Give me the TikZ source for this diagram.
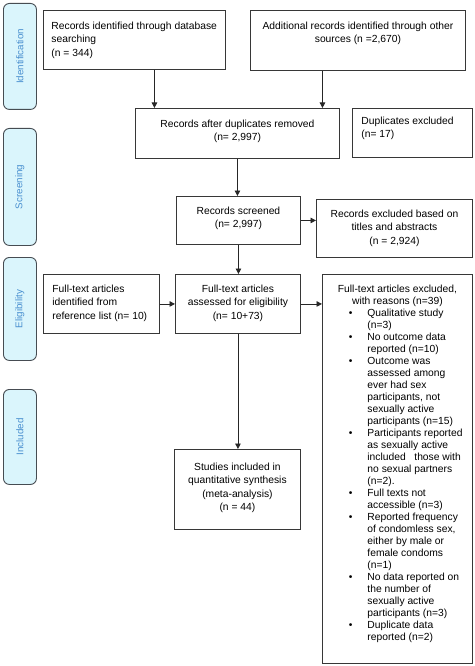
\documentclass[tikz,border=0pt]{standalone}
\usepackage{fontspec}
\setmainfont{Liberation Sans}
\usepackage{graphicx}
\usetikzlibrary{arrows.meta}
\definecolor{sidefill}{RGB}{218,245,252}
\definecolor{sidetext}{RGB}{74,144,208}
\definecolor{sideedge}{RGB}{70,76,82}
\definecolor{edge}{RGB}{55,55,55}
% #1 width, #2 height, #3 alignment, #4 first-line strut, #5 text
\newcommand\tb[5]{\parbox[c][#2pt][t]{#1pt}{\fontsize{10.3}{13.5}\selectfont#3\rule{0pt}{#4pt}#5}}
\newcommand\bul{\leavevmode\llap{\textbullet\hspace{15pt}}}
\tikzset{
  bx/.style={draw=edge, line width=0.9pt, inner sep=0pt, anchor=north west},
  side/.style={draw=sideedge, fill=sidefill, line width=0.9pt, rounded corners=6pt,
    inner sep=0pt, anchor=north west, minimum width=33pt, text=sidetext,
    font=\fontsize{9.8}{11}\selectfont},
  arr/.style={draw=black!85, line width=0.9pt, -{Triangle[length=5.5pt,width=5.5pt]}}
}
\begin{document}
\begin{tikzpicture}[x=1pt,y=-1pt]
\useasboundingbox (0,0) rectangle (474,666);

% side labels
\node[side, minimum height=106pt] (sid) at (3,3) {\rotatebox{90}{Identification}};
\node[side, minimum height=117pt] (ssc) at (3,128) {\rotatebox{90}{Screening}};
\node[side, minimum height=103pt] (sel) at (3,257) {\rotatebox{90}{Eligibility}};
\node[side, minimum height=95pt] (sin) at (3,389) {\rotatebox{90}{Included}};

% boxes
\node[bx] (db) at (43,10) {\tb{182}{59}{\raggedright\leftskip=8pt}{19}{Records identified through database\\searching\\(n = 344)}};
\node[bx] (oth) at (250,10) {\tb{215}{60}{\centering}{19}{Additional records identified through other\\sources (n =2,670)}};
\node[bx] (dup) at (135,108) {\tb{204}{50}{\centering}{19}{Records after duplicates removed\\(n= 2,997)}};
\node[bx] (dex) at (352,108) {\tb{120}{49}{\raggedright\leftskip=9pt}{16}{Duplicates excluded\\(n= 17)}};
\node[bx] (scr) at (176,196) {\tb{124}{48}{\centering}{18}{Records screened\\(n= 2,997)}};
\node[bx] (tex) at (316,199) {\tb{156}{58}{\centering}{18}{Records excluded based on\\titles and abstracts\\(n = 2,924)}};
\node[bx] (ref) at (43,274) {\tb{116}{59}{\raggedright\leftskip=9pt}{18}{Full-text articles\\identified from\\reference list (n= 10)}};
\node[bx] (ass) at (175,274) {\tb{125}{59}{\centering}{18}{Full-text articles\\assessed for eligibility\\(n= 10+73)}};
\node[bx] (stu) at (174,449) {\tb{126}{80}{\centering}{21}{Studies included in\\quantitative synthesis\\(meta-analysis)\\(n = 44)}};
\node[bx] (fex) at (322,274) {\parbox[c][389pt][t]{150pt}{\fontsize{10.3}{12}\selectfont
  {\centering\rule{0pt}{18pt}Full-text articles excluded,\\with reasons (n=39)\par}
  \raggedright\leftskip=45pt
  \bul Qualitative study\\(n=3)\par
  \bul No outcome data\\reported (n=10)\par
  \bul Outcome was\\assessed among\\ever had sex\\participants, not\\sexually active\\participants (n=15)\par
  \bul Participants reported\\as sexually active\\included\ \ \ those with\\no sexual partners\\(n=2).\par
  \bul Full texts not\\accessible (n=3)\par
  \bul Reported frequency\\of condomless sex,\\either by male or\\female condoms\\(n=1)\par
  \bul No data reported on\\the number of\\sexually active\\participants (n=3)\par
  \bul Duplicate data\\reported (n=2)\par}};

% connectors
\draw[arr] ([xshift=20pt]db.south) -- ([xshift=20pt]db.south |- dup.north);
\draw[arr] ([xshift=-35.5pt]oth.south) -- ([xshift=-35.5pt]oth.south |- dup.north);
\draw[arr] (dup.south) -- (dup.south |- scr.north);
\draw[arr] (scr.east) -- (scr.east -| tex.west);
\draw[arr] (scr.south) -- (scr.south |- ass.north);
\draw[arr] (ref.east) -- (ref.east -| ass.west);
\draw[arr] (ass.east) -- (ass.east -| fex.west);
\draw[arr] (ass.south) -- (ass.south |- stu.north);
\end{tikzpicture}
\end{document}
